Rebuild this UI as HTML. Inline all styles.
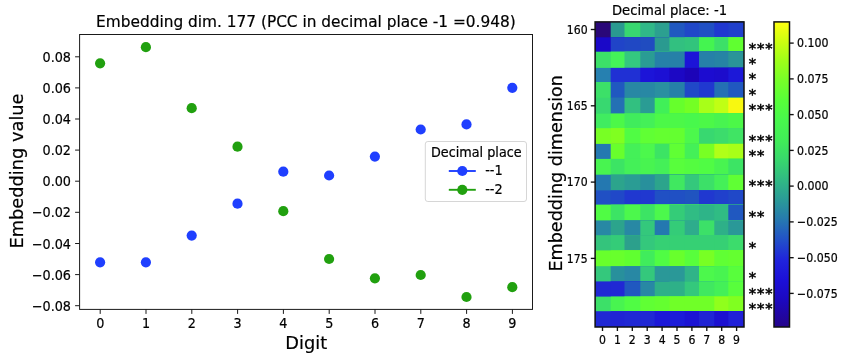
<!DOCTYPE html>
<html lang="en"><head><meta charset="utf-8"><title>Embedding dim. 177</title>
<style>html,body{margin:0;padding:0;background:#fff}svg{display:block}</style></head>
<body>
<svg width="847" height="356" viewBox="0 0 847 356" font-family="'DejaVu Sans', 'Liberation Sans', sans-serif" fill="#000">
<rect width="847" height="356" fill="#fff"/>
<text transform="translate(305.95,26.90)" font-size="15.35" text-anchor="middle" stroke="#000" stroke-width="0.2">Embedding dim. 177 (PCC in decimal place -1 =0.948)</text>
<line x1="100.2" y1="309.4" x2="100.2" y2="313.9" stroke="#1a1a1a" stroke-width="1"/>
<text transform="translate(100.20,328.20) scale(1.0,1.06)" font-size="12.8" text-anchor="middle" stroke="#000" stroke-width="0.2">0</text>
<line x1="146.0" y1="309.4" x2="146.0" y2="313.9" stroke="#1a1a1a" stroke-width="1"/>
<text transform="translate(146.00,328.20) scale(1.0,1.06)" font-size="12.8" text-anchor="middle" stroke="#000" stroke-width="0.2">1</text>
<line x1="191.8" y1="309.4" x2="191.8" y2="313.9" stroke="#1a1a1a" stroke-width="1"/>
<text transform="translate(191.80,328.20) scale(1.0,1.06)" font-size="12.8" text-anchor="middle" stroke="#000" stroke-width="0.2">2</text>
<line x1="237.6" y1="309.4" x2="237.6" y2="313.9" stroke="#1a1a1a" stroke-width="1"/>
<text transform="translate(237.60,328.20) scale(1.0,1.06)" font-size="12.8" text-anchor="middle" stroke="#000" stroke-width="0.2">3</text>
<line x1="283.4" y1="309.4" x2="283.4" y2="313.9" stroke="#1a1a1a" stroke-width="1"/>
<text transform="translate(283.40,328.20) scale(1.0,1.06)" font-size="12.8" text-anchor="middle" stroke="#000" stroke-width="0.2">4</text>
<line x1="329.2" y1="309.4" x2="329.2" y2="313.9" stroke="#1a1a1a" stroke-width="1"/>
<text transform="translate(329.20,328.20) scale(1.0,1.06)" font-size="12.8" text-anchor="middle" stroke="#000" stroke-width="0.2">5</text>
<line x1="375.0" y1="309.4" x2="375.0" y2="313.9" stroke="#1a1a1a" stroke-width="1"/>
<text transform="translate(375.00,328.20) scale(1.0,1.06)" font-size="12.8" text-anchor="middle" stroke="#000" stroke-width="0.2">6</text>
<line x1="420.8" y1="309.4" x2="420.8" y2="313.9" stroke="#1a1a1a" stroke-width="1"/>
<text transform="translate(420.80,328.20) scale(1.0,1.06)" font-size="12.8" text-anchor="middle" stroke="#000" stroke-width="0.2">7</text>
<line x1="466.6" y1="309.4" x2="466.6" y2="313.9" stroke="#1a1a1a" stroke-width="1"/>
<text transform="translate(466.60,328.20) scale(1.0,1.06)" font-size="12.8" text-anchor="middle" stroke="#000" stroke-width="0.2">8</text>
<line x1="512.4" y1="309.4" x2="512.4" y2="313.9" stroke="#1a1a1a" stroke-width="1"/>
<text transform="translate(512.40,328.20) scale(1.0,1.06)" font-size="12.8" text-anchor="middle" stroke="#000" stroke-width="0.2">9</text>
<line x1="75.1" y1="56.8" x2="79.6" y2="56.8" stroke="#1a1a1a" stroke-width="1"/>
<text transform="translate(71.00,61.80) scale(1.0,1.07)" font-size="12.8" text-anchor="end" stroke="#000" stroke-width="0.2">0.08</text>
<line x1="75.1" y1="87.9" x2="79.6" y2="87.9" stroke="#1a1a1a" stroke-width="1"/>
<text transform="translate(71.00,92.92) scale(1.0,1.07)" font-size="12.8" text-anchor="end" stroke="#000" stroke-width="0.2">0.06</text>
<line x1="75.1" y1="119.0" x2="79.6" y2="119.0" stroke="#1a1a1a" stroke-width="1"/>
<text transform="translate(71.00,124.04) scale(1.0,1.07)" font-size="12.8" text-anchor="end" stroke="#000" stroke-width="0.2">0.04</text>
<line x1="75.1" y1="150.1" x2="79.6" y2="150.1" stroke="#1a1a1a" stroke-width="1"/>
<text transform="translate(71.00,155.16) scale(1.0,1.07)" font-size="12.8" text-anchor="end" stroke="#000" stroke-width="0.2">0.02</text>
<line x1="75.1" y1="181.2" x2="79.6" y2="181.2" stroke="#1a1a1a" stroke-width="1"/>
<text transform="translate(71.00,186.28) scale(1.0,1.07)" font-size="12.8" text-anchor="end" stroke="#000" stroke-width="0.2">0.00</text>
<line x1="75.1" y1="212.3" x2="79.6" y2="212.3" stroke="#1a1a1a" stroke-width="1"/>
<text transform="translate(71.00,217.40) scale(1.0,1.07)" font-size="12.8" text-anchor="end" stroke="#000" stroke-width="0.2">−0.02</text>
<line x1="75.1" y1="243.5" x2="79.6" y2="243.5" stroke="#1a1a1a" stroke-width="1"/>
<text transform="translate(71.00,248.52) scale(1.0,1.07)" font-size="12.8" text-anchor="end" stroke="#000" stroke-width="0.2">−0.04</text>
<line x1="75.1" y1="274.6" x2="79.6" y2="274.6" stroke="#1a1a1a" stroke-width="1"/>
<text transform="translate(71.00,279.64) scale(1.0,1.07)" font-size="12.8" text-anchor="end" stroke="#000" stroke-width="0.2">−0.06</text>
<line x1="75.1" y1="305.7" x2="79.6" y2="305.7" stroke="#1a1a1a" stroke-width="1"/>
<text transform="translate(71.00,310.76) scale(1.0,1.07)" font-size="12.8" text-anchor="end" stroke="#000" stroke-width="0.2">−0.08</text>
<text transform="translate(306.20,348.70)" font-size="17.8" text-anchor="middle" stroke="#000" stroke-width="0.2">Digit</text>
<text transform="translate(23.00,171.00) rotate(-90)" font-size="17.8" text-anchor="middle" stroke="#000" stroke-width="0.2">Embedding value</text>
<circle cx="100.1" cy="262.3" r="5.1" fill="#1f3fff"/>
<circle cx="145.9" cy="262.3" r="5.1" fill="#1f3fff"/>
<circle cx="191.7" cy="235.6" r="5.1" fill="#1f3fff"/>
<circle cx="237.5" cy="203.7" r="5.1" fill="#1f3fff"/>
<circle cx="283.3" cy="171.7" r="5.1" fill="#1f3fff"/>
<circle cx="329.1" cy="175.5" r="5.1" fill="#1f3fff"/>
<circle cx="374.9" cy="156.6" r="5.1" fill="#1f3fff"/>
<circle cx="420.7" cy="129.5" r="5.1" fill="#1f3fff"/>
<circle cx="466.5" cy="124.4" r="5.1" fill="#1f3fff"/>
<circle cx="512.3" cy="87.8" r="5.1" fill="#1f3fff"/>
<circle cx="100.1" cy="63.3" r="5.1" fill="#21a00f"/>
<circle cx="145.9" cy="47.2" r="5.1" fill="#21a00f"/>
<circle cx="191.7" cy="108.2" r="5.1" fill="#21a00f"/>
<circle cx="237.5" cy="146.7" r="5.1" fill="#21a00f"/>
<circle cx="283.3" cy="211.2" r="5.1" fill="#21a00f"/>
<circle cx="329.1" cy="259.0" r="5.1" fill="#21a00f"/>
<circle cx="374.9" cy="278.3" r="5.1" fill="#21a00f"/>
<circle cx="420.7" cy="275.0" r="5.1" fill="#21a00f"/>
<circle cx="466.5" cy="297.0" r="5.1" fill="#21a00f"/>
<circle cx="512.3" cy="287.2" r="5.1" fill="#21a00f"/>
<rect x="425.3" y="141.5" width="101.2" height="60.0" rx="2.5" fill="#fff" fill-opacity="0.8" stroke="#ccc" stroke-opacity="0.8" stroke-width="1"/>
<text transform="translate(476.30,156.80) scale(1.0,1.04)" font-size="12.8" text-anchor="middle" stroke="#000" stroke-width="0.2">Decimal place</text>
<line x1="448.8" y1="171.0" x2="475.8" y2="171.0" stroke="#1f3fff" stroke-width="1.9"/>
<circle cx="462.3" cy="171.0" r="5.1" fill="#1f3fff"/>
<text transform="translate(485.20,175.20) scale(1.0,1.06)" font-size="12.95" stroke="#000" stroke-width="0.2">--1</text>
<line x1="448.8" y1="189.8" x2="475.8" y2="189.8" stroke="#21a00f" stroke-width="1.9"/>
<circle cx="462.3" cy="189.8" r="5.1" fill="#21a00f"/>
<text transform="translate(485.20,193.90) scale(1.0,1.06)" font-size="12.95" stroke="#000" stroke-width="0.2">--2</text>
<rect x="79.6" y="34.5" width="452.9" height="274.9" fill="none" stroke="#1a1a1a" stroke-width="1"/>
<rect x="595.10" y="21.90" width="148.90" height="305.10" fill="#2a0878"/>
<rect x="610.70" y="21.90" width="133.30" height="305.10" fill="#2a9a90"/>
<rect x="624.50" y="21.90" width="119.50" height="305.10" fill="#38d870"/>
<rect x="640.30" y="21.90" width="103.70" height="305.10" fill="#30b888"/>
<rect x="654.70" y="21.90" width="89.30" height="305.10" fill="#2ca090"/>
<rect x="669.40" y="21.90" width="74.60" height="305.10" fill="#2058c0"/>
<rect x="684.70" y="21.90" width="59.30" height="305.10" fill="#2048c8"/>
<rect x="699.00" y="21.90" width="45.00" height="305.10" fill="#2050c4"/>
<rect x="714.30" y="21.90" width="29.70" height="305.10" fill="#2038d0"/>
<rect x="728.30" y="21.90" width="15.70" height="305.10" fill="#2040cc"/>
<rect x="595.10" y="37.30" width="148.90" height="289.70" fill="#1a08c8"/>
<rect x="610.70" y="37.30" width="133.30" height="289.70" fill="#2044c8"/>
<rect x="624.50" y="37.30" width="119.50" height="289.70" fill="#2048c4"/>
<rect x="640.30" y="37.30" width="103.70" height="289.70" fill="#204cc0"/>
<rect x="654.70" y="37.30" width="89.30" height="289.70" fill="#2a9a90"/>
<rect x="669.40" y="37.30" width="74.60" height="289.70" fill="#32c080"/>
<rect x="684.70" y="37.30" width="59.30" height="289.70" fill="#32c47c"/>
<rect x="699.00" y="37.30" width="45.00" height="289.70" fill="#44f450"/>
<rect x="714.30" y="37.30" width="29.70" height="289.70" fill="#3ce068"/>
<rect x="728.30" y="37.30" width="15.70" height="289.70" fill="#60ff30"/>
<rect x="595.10" y="51.70" width="148.90" height="275.30" fill="#3ce068"/>
<rect x="610.70" y="51.70" width="133.30" height="275.30" fill="#44f458"/>
<rect x="624.50" y="51.70" width="119.50" height="275.30" fill="#34c880"/>
<rect x="640.30" y="51.70" width="103.70" height="275.30" fill="#2a9c94"/>
<rect x="654.70" y="51.70" width="89.30" height="275.30" fill="#2680a8"/>
<rect x="669.40" y="51.70" width="74.60" height="275.30" fill="#2680a8"/>
<rect x="684.70" y="51.70" width="59.30" height="275.30" fill="#1c14d8"/>
<rect x="699.00" y="51.70" width="45.00" height="275.30" fill="#2680a8"/>
<rect x="714.30" y="51.70" width="29.70" height="275.30" fill="#2684a4"/>
<rect x="728.30" y="51.70" width="15.70" height="275.30" fill="#2a9498"/>
<rect x="595.10" y="67.90" width="148.90" height="259.10" fill="#2680b0"/>
<rect x="610.70" y="67.90" width="133.30" height="259.10" fill="#2030d4"/>
<rect x="624.50" y="67.90" width="119.50" height="259.10" fill="#2030d4"/>
<rect x="640.30" y="67.90" width="103.70" height="259.10" fill="#1c14d8"/>
<rect x="654.70" y="67.90" width="89.30" height="259.10" fill="#1c10d4"/>
<rect x="669.40" y="67.90" width="74.60" height="259.10" fill="#1c08c4"/>
<rect x="684.70" y="67.90" width="59.30" height="259.10" fill="#1c04b8"/>
<rect x="699.00" y="67.90" width="45.00" height="259.10" fill="#1c0cd0"/>
<rect x="714.30" y="67.90" width="29.70" height="259.10" fill="#1c0ccc"/>
<rect x="728.30" y="67.90" width="15.70" height="259.10" fill="#1c18d8"/>
<rect x="595.10" y="82.00" width="148.90" height="245.00" fill="#3ce068"/>
<rect x="610.70" y="82.00" width="133.30" height="245.00" fill="#2058c0"/>
<rect x="624.50" y="82.00" width="119.50" height="245.00" fill="#2888a4"/>
<rect x="640.30" y="82.00" width="103.70" height="245.00" fill="#2888a4"/>
<rect x="654.70" y="82.00" width="89.30" height="245.00" fill="#2a90a0"/>
<rect x="669.40" y="82.00" width="74.60" height="245.00" fill="#2680a8"/>
<rect x="684.70" y="82.00" width="59.30" height="245.00" fill="#2048c8"/>
<rect x="699.00" y="82.00" width="45.00" height="245.00" fill="#2038d0"/>
<rect x="714.30" y="82.00" width="29.70" height="245.00" fill="#2470b4"/>
<rect x="728.30" y="82.00" width="15.70" height="245.00" fill="#2058c0"/>
<rect x="595.10" y="97.90" width="148.90" height="229.10" fill="#38d870"/>
<rect x="610.70" y="97.90" width="133.30" height="229.10" fill="#2470b4"/>
<rect x="624.50" y="97.90" width="119.50" height="229.10" fill="#32c080"/>
<rect x="640.30" y="97.90" width="103.70" height="229.10" fill="#2a9c94"/>
<rect x="654.70" y="97.90" width="89.30" height="229.10" fill="#40f058"/>
<rect x="669.40" y="97.90" width="74.60" height="229.10" fill="#66ff2c"/>
<rect x="684.70" y="97.90" width="59.30" height="229.10" fill="#74ff24"/>
<rect x="699.00" y="97.90" width="45.00" height="229.10" fill="#a8ff18"/>
<rect x="714.30" y="97.90" width="29.70" height="229.10" fill="#c0ff14"/>
<rect x="728.30" y="97.90" width="15.70" height="229.10" fill="#f8f810"/>
<rect x="595.10" y="113.60" width="148.90" height="213.40" fill="#40ec60"/>
<rect x="610.70" y="113.60" width="133.30" height="213.40" fill="#4cf848"/>
<rect x="624.50" y="113.60" width="119.50" height="213.40" fill="#40ec5c"/>
<rect x="640.30" y="113.60" width="103.70" height="213.40" fill="#44f058"/>
<rect x="654.70" y="113.60" width="89.30" height="213.40" fill="#4cf848"/>
<rect x="669.40" y="113.60" width="74.60" height="213.40" fill="#4cf848"/>
<rect x="684.70" y="113.60" width="59.30" height="213.40" fill="#48f84c"/>
<rect x="699.00" y="113.60" width="45.00" height="213.40" fill="#4cf848"/>
<rect x="714.30" y="113.60" width="29.70" height="213.40" fill="#48f450"/>
<rect x="728.30" y="113.60" width="15.70" height="213.40" fill="#4cf848"/>
<rect x="595.10" y="128.20" width="148.90" height="198.80" fill="#78ff24"/>
<rect x="610.70" y="128.20" width="133.30" height="198.80" fill="#80ff20"/>
<rect x="624.50" y="128.20" width="119.50" height="198.80" fill="#50fc44"/>
<rect x="640.30" y="128.20" width="103.70" height="198.80" fill="#60ff34"/>
<rect x="654.70" y="128.20" width="89.30" height="198.80" fill="#64ff30"/>
<rect x="669.40" y="128.20" width="74.60" height="198.80" fill="#64ff30"/>
<rect x="684.70" y="128.20" width="59.30" height="198.80" fill="#4cf84c"/>
<rect x="699.00" y="128.20" width="45.00" height="198.80" fill="#38d870"/>
<rect x="714.30" y="128.20" width="29.70" height="198.80" fill="#3cdc6c"/>
<rect x="728.30" y="128.20" width="15.70" height="198.80" fill="#40e464"/>
<rect x="595.10" y="143.90" width="148.90" height="183.10" fill="#2478b0"/>
<rect x="610.70" y="143.90" width="133.30" height="183.10" fill="#68ff2c"/>
<rect x="624.50" y="143.90" width="119.50" height="183.10" fill="#44f058"/>
<rect x="640.30" y="143.90" width="103.70" height="183.10" fill="#4cf84c"/>
<rect x="654.70" y="143.90" width="89.30" height="183.10" fill="#3ce464"/>
<rect x="669.40" y="143.90" width="74.60" height="183.10" fill="#60ff34"/>
<rect x="684.70" y="143.90" width="59.30" height="183.10" fill="#44f058"/>
<rect x="699.00" y="143.90" width="45.00" height="183.10" fill="#78ff24"/>
<rect x="714.30" y="143.90" width="29.70" height="183.10" fill="#b0ff18"/>
<rect x="728.30" y="143.90" width="15.70" height="183.10" fill="#a8ff18"/>
<rect x="595.10" y="158.90" width="148.90" height="168.10" fill="#48f450"/>
<rect x="610.70" y="158.90" width="133.30" height="168.10" fill="#3ce464"/>
<rect x="624.50" y="158.90" width="119.50" height="168.10" fill="#44f058"/>
<rect x="640.30" y="158.90" width="103.70" height="168.10" fill="#48f450"/>
<rect x="654.70" y="158.90" width="89.30" height="168.10" fill="#44f058"/>
<rect x="669.40" y="158.90" width="74.60" height="168.10" fill="#58fe3c"/>
<rect x="684.70" y="158.90" width="59.30" height="168.10" fill="#54fc40"/>
<rect x="699.00" y="158.90" width="45.00" height="168.10" fill="#50fc44"/>
<rect x="714.30" y="158.90" width="29.70" height="168.10" fill="#48f450"/>
<rect x="728.30" y="158.90" width="15.70" height="168.10" fill="#3ce464"/>
<rect x="595.10" y="174.70" width="148.90" height="152.30" fill="#2478b0"/>
<rect x="610.70" y="174.70" width="133.30" height="152.30" fill="#2ca48c"/>
<rect x="624.50" y="174.70" width="119.50" height="152.30" fill="#2a9c94"/>
<rect x="640.30" y="174.70" width="103.70" height="152.30" fill="#28909c"/>
<rect x="654.70" y="174.70" width="89.30" height="152.30" fill="#2ca48c"/>
<rect x="669.40" y="174.70" width="74.60" height="152.30" fill="#40e860"/>
<rect x="684.70" y="174.70" width="59.30" height="152.30" fill="#34c87c"/>
<rect x="699.00" y="174.70" width="45.00" height="152.30" fill="#3ce068"/>
<rect x="714.30" y="174.70" width="29.70" height="152.30" fill="#44f058"/>
<rect x="728.30" y="174.70" width="15.70" height="152.30" fill="#60ff34"/>
<rect x="595.10" y="190.40" width="148.90" height="136.60" fill="#2050c4"/>
<rect x="610.70" y="190.40" width="133.30" height="136.60" fill="#2048c8"/>
<rect x="624.50" y="190.40" width="119.50" height="136.60" fill="#2038d0"/>
<rect x="640.30" y="190.40" width="103.70" height="136.60" fill="#2038d0"/>
<rect x="654.70" y="190.40" width="89.30" height="136.60" fill="#2050c4"/>
<rect x="669.40" y="190.40" width="74.60" height="136.60" fill="#2050c4"/>
<rect x="684.70" y="190.40" width="59.30" height="136.60" fill="#2054c0"/>
<rect x="699.00" y="190.40" width="45.00" height="136.60" fill="#2038d0"/>
<rect x="714.30" y="190.40" width="29.70" height="136.60" fill="#2040cc"/>
<rect x="728.30" y="190.40" width="15.70" height="136.60" fill="#2048c8"/>
<rect x="595.10" y="204.60" width="148.90" height="122.40" fill="#50fc44"/>
<rect x="610.70" y="204.60" width="133.30" height="122.40" fill="#3ce464"/>
<rect x="624.50" y="204.60" width="119.50" height="122.40" fill="#4cf84c"/>
<rect x="640.30" y="204.60" width="103.70" height="122.40" fill="#3ce464"/>
<rect x="654.70" y="204.60" width="89.30" height="122.40" fill="#4cf84c"/>
<rect x="669.40" y="204.60" width="74.60" height="122.40" fill="#34cc78"/>
<rect x="684.70" y="204.60" width="59.30" height="122.40" fill="#30bc84"/>
<rect x="699.00" y="204.60" width="45.00" height="122.40" fill="#2eb488"/>
<rect x="714.30" y="204.60" width="29.70" height="122.40" fill="#30bc84"/>
<rect x="728.30" y="204.60" width="15.70" height="122.40" fill="#2058c0"/>
<rect x="595.10" y="220.40" width="148.90" height="106.60" fill="#2888a4"/>
<rect x="610.70" y="220.40" width="133.30" height="106.60" fill="#2ca48c"/>
<rect x="624.50" y="220.40" width="119.50" height="106.60" fill="#2888a4"/>
<rect x="640.30" y="220.40" width="103.70" height="106.60" fill="#34c87c"/>
<rect x="654.70" y="220.40" width="89.30" height="106.60" fill="#2478b0"/>
<rect x="669.40" y="220.40" width="74.60" height="106.60" fill="#34cc78"/>
<rect x="684.70" y="220.40" width="59.30" height="106.60" fill="#2eac8c"/>
<rect x="699.00" y="220.40" width="45.00" height="106.60" fill="#3ce068"/>
<rect x="714.30" y="220.40" width="29.70" height="106.60" fill="#2eb088"/>
<rect x="728.30" y="220.40" width="15.70" height="106.60" fill="#2a9898"/>
<rect x="595.10" y="235.20" width="148.90" height="91.80" fill="#34c47c"/>
<rect x="610.70" y="235.20" width="133.30" height="91.80" fill="#34cc78"/>
<rect x="624.50" y="235.20" width="119.50" height="91.80" fill="#2ca08c"/>
<rect x="640.30" y="235.20" width="103.70" height="91.80" fill="#34c87c"/>
<rect x="654.70" y="235.20" width="89.30" height="91.80" fill="#36d074"/>
<rect x="669.40" y="235.20" width="74.60" height="91.80" fill="#36d074"/>
<rect x="684.70" y="235.20" width="59.30" height="91.80" fill="#36d074"/>
<rect x="699.00" y="235.20" width="45.00" height="91.80" fill="#36d074"/>
<rect x="714.30" y="235.20" width="29.70" height="91.80" fill="#36d074"/>
<rect x="728.30" y="235.20" width="15.70" height="91.80" fill="#3cdc6c"/>
<rect x="595.10" y="250.40" width="148.90" height="76.60" fill="#68ff2c"/>
<rect x="610.70" y="250.40" width="133.30" height="76.60" fill="#68ff2c"/>
<rect x="624.50" y="250.40" width="119.50" height="76.60" fill="#60ff30"/>
<rect x="640.30" y="250.40" width="103.70" height="76.60" fill="#40ec5c"/>
<rect x="654.70" y="250.40" width="89.30" height="76.60" fill="#50fc44"/>
<rect x="669.40" y="250.40" width="74.60" height="76.60" fill="#68ff2c"/>
<rect x="684.70" y="250.40" width="59.30" height="76.60" fill="#58fe3c"/>
<rect x="699.00" y="250.40" width="45.00" height="76.60" fill="#78ff24"/>
<rect x="714.30" y="250.40" width="29.70" height="76.60" fill="#60ff34"/>
<rect x="728.30" y="250.40" width="15.70" height="76.60" fill="#64ff30"/>
<rect x="595.10" y="266.20" width="148.90" height="60.80" fill="#34c87c"/>
<rect x="610.70" y="266.20" width="133.30" height="60.80" fill="#28909c"/>
<rect x="624.50" y="266.20" width="119.50" height="60.80" fill="#2888a4"/>
<rect x="640.30" y="266.20" width="103.70" height="60.80" fill="#34c87c"/>
<rect x="654.70" y="266.20" width="89.30" height="60.80" fill="#2a9898"/>
<rect x="669.40" y="266.20" width="74.60" height="60.80" fill="#2a9898"/>
<rect x="684.70" y="266.20" width="59.30" height="60.80" fill="#30b488"/>
<rect x="699.00" y="266.20" width="45.00" height="60.80" fill="#4cf84c"/>
<rect x="714.30" y="266.20" width="29.70" height="60.80" fill="#48f450"/>
<rect x="728.30" y="266.20" width="15.70" height="60.80" fill="#58fe3c"/>
<rect x="595.10" y="281.40" width="148.90" height="45.60" fill="#2028d4"/>
<rect x="610.70" y="281.40" width="133.30" height="45.60" fill="#2028d4"/>
<rect x="624.50" y="281.40" width="119.50" height="45.60" fill="#2058c0"/>
<rect x="640.30" y="281.40" width="103.70" height="45.60" fill="#2888a4"/>
<rect x="654.70" y="281.40" width="89.30" height="45.60" fill="#2eb088"/>
<rect x="669.40" y="281.40" width="74.60" height="45.60" fill="#2eb088"/>
<rect x="684.70" y="281.40" width="59.30" height="45.60" fill="#34c87c"/>
<rect x="699.00" y="281.40" width="45.00" height="45.60" fill="#40e860"/>
<rect x="714.30" y="281.40" width="29.70" height="45.60" fill="#44f058"/>
<rect x="728.30" y="281.40" width="15.70" height="45.60" fill="#58fe3c"/>
<rect x="595.10" y="296.60" width="148.90" height="30.40" fill="#3ce068"/>
<rect x="610.70" y="296.60" width="133.30" height="30.40" fill="#48f450"/>
<rect x="624.50" y="296.60" width="119.50" height="30.40" fill="#50fc44"/>
<rect x="640.30" y="296.60" width="103.70" height="30.40" fill="#60ff34"/>
<rect x="654.70" y="296.60" width="89.30" height="30.40" fill="#64ff30"/>
<rect x="669.40" y="296.60" width="74.60" height="30.40" fill="#70ff28"/>
<rect x="684.70" y="296.60" width="59.30" height="30.40" fill="#70ff28"/>
<rect x="699.00" y="296.60" width="45.00" height="30.40" fill="#70ff28"/>
<rect x="714.30" y="296.60" width="29.70" height="30.40" fill="#90ff1c"/>
<rect x="728.30" y="296.60" width="15.70" height="30.40" fill="#80ff20"/>
<rect x="595.10" y="311.20" width="148.90" height="15.80" fill="#2028d4"/>
<rect x="610.70" y="311.20" width="133.30" height="15.80" fill="#2024d4"/>
<rect x="624.50" y="311.20" width="119.50" height="15.80" fill="#2028d4"/>
<rect x="640.30" y="311.20" width="103.70" height="15.80" fill="#2028d4"/>
<rect x="654.70" y="311.20" width="89.30" height="15.80" fill="#1c18d8"/>
<rect x="669.40" y="311.20" width="74.60" height="15.80" fill="#1c1cd8"/>
<rect x="684.70" y="311.20" width="59.30" height="15.80" fill="#1c14d4"/>
<rect x="699.00" y="311.20" width="45.00" height="15.80" fill="#2024d4"/>
<rect x="714.30" y="311.20" width="29.70" height="15.80" fill="#1c10d0"/>
<rect x="728.30" y="311.20" width="15.70" height="15.80" fill="#2020d8"/>
<rect x="595.1" y="21.9" width="148.9" height="305.1" fill="none" stroke="#111" stroke-width="1.5"/>
<text transform="translate(669.55,15.40) scale(1.0,1.04)" font-size="13.2" text-anchor="middle" stroke="#000" stroke-width="0.2">Decimal place: -1</text>
<line x1="602.5" y1="327.0" x2="602.5" y2="331.0" stroke="#111" stroke-width="1.35"/>
<text transform="translate(602.55,344.15) scale(1.0,1.08)" font-size="10.9" text-anchor="middle" stroke="#000" stroke-width="0.2">0</text>
<line x1="617.4" y1="327.0" x2="617.4" y2="331.0" stroke="#111" stroke-width="1.35"/>
<text transform="translate(617.44,344.15) scale(1.0,1.08)" font-size="10.9" text-anchor="middle" stroke="#000" stroke-width="0.2">1</text>
<line x1="632.3" y1="327.0" x2="632.3" y2="331.0" stroke="#111" stroke-width="1.35"/>
<text transform="translate(632.33,344.15) scale(1.0,1.08)" font-size="10.9" text-anchor="middle" stroke="#000" stroke-width="0.2">2</text>
<line x1="647.2" y1="327.0" x2="647.2" y2="331.0" stroke="#111" stroke-width="1.35"/>
<text transform="translate(647.22,344.15) scale(1.0,1.08)" font-size="10.9" text-anchor="middle" stroke="#000" stroke-width="0.2">3</text>
<line x1="662.1" y1="327.0" x2="662.1" y2="331.0" stroke="#111" stroke-width="1.35"/>
<text transform="translate(662.11,344.15) scale(1.0,1.08)" font-size="10.9" text-anchor="middle" stroke="#000" stroke-width="0.2">4</text>
<line x1="677.0" y1="327.0" x2="677.0" y2="331.0" stroke="#111" stroke-width="1.35"/>
<text transform="translate(677.00,344.15) scale(1.0,1.08)" font-size="10.9" text-anchor="middle" stroke="#000" stroke-width="0.2">5</text>
<line x1="691.9" y1="327.0" x2="691.9" y2="331.0" stroke="#111" stroke-width="1.35"/>
<text transform="translate(691.88,344.15) scale(1.0,1.08)" font-size="10.9" text-anchor="middle" stroke="#000" stroke-width="0.2">6</text>
<line x1="706.8" y1="327.0" x2="706.8" y2="331.0" stroke="#111" stroke-width="1.35"/>
<text transform="translate(706.77,344.15) scale(1.0,1.08)" font-size="10.9" text-anchor="middle" stroke="#000" stroke-width="0.2">7</text>
<line x1="721.7" y1="327.0" x2="721.7" y2="331.0" stroke="#111" stroke-width="1.35"/>
<text transform="translate(721.66,344.15) scale(1.0,1.08)" font-size="10.9" text-anchor="middle" stroke="#000" stroke-width="0.2">8</text>
<line x1="736.6" y1="327.0" x2="736.6" y2="331.0" stroke="#111" stroke-width="1.35"/>
<text transform="translate(736.56,344.15) scale(1.0,1.08)" font-size="10.9" text-anchor="middle" stroke="#000" stroke-width="0.2">9</text>
<line x1="590.8" y1="29.5" x2="595.1" y2="29.5" stroke="#111" stroke-width="1.35"/>
<text transform="translate(587.60,33.73) scale(1.0,1.08)" font-size="10.9" text-anchor="end" stroke="#000" stroke-width="0.2">160</text>
<line x1="590.8" y1="105.8" x2="595.1" y2="105.8" stroke="#111" stroke-width="1.35"/>
<text transform="translate(587.60,110.00) scale(1.0,1.08)" font-size="10.9" text-anchor="end" stroke="#000" stroke-width="0.2">165</text>
<line x1="590.8" y1="182.1" x2="595.1" y2="182.1" stroke="#111" stroke-width="1.35"/>
<text transform="translate(587.60,186.28) scale(1.0,1.08)" font-size="10.9" text-anchor="end" stroke="#000" stroke-width="0.2">170</text>
<line x1="590.8" y1="258.4" x2="595.1" y2="258.4" stroke="#111" stroke-width="1.35"/>
<text transform="translate(587.60,262.55) scale(1.0,1.08)" font-size="10.9" text-anchor="end" stroke="#000" stroke-width="0.2">175</text>
<text transform="translate(561.90,173.30) rotate(-90)" font-size="17.6" text-anchor="middle" stroke="#000" stroke-width="0.2">Embedding dimension</text>
<text x="748.8" y="52.8" font-size="14.6" letter-spacing="0.9" stroke="#000" stroke-width="0.55">***</text>
<text x="748.8" y="68.1" font-size="14.6" letter-spacing="0.9" stroke="#000" stroke-width="0.55">*</text>
<text x="748.8" y="83.4" font-size="14.6" letter-spacing="0.9" stroke="#000" stroke-width="0.55">*</text>
<text x="748.8" y="98.7" font-size="14.6" letter-spacing="0.9" stroke="#000" stroke-width="0.55">*</text>
<text x="748.8" y="114.0" font-size="14.6" letter-spacing="0.9" stroke="#000" stroke-width="0.55">***</text>
<text x="748.8" y="144.6" font-size="14.6" letter-spacing="0.9" stroke="#000" stroke-width="0.55">***</text>
<text x="748.8" y="159.9" font-size="14.6" letter-spacing="0.9" stroke="#000" stroke-width="0.55">**</text>
<text x="748.8" y="190.4" font-size="14.6" letter-spacing="0.9" stroke="#000" stroke-width="0.55">***</text>
<text x="748.8" y="221.0" font-size="14.6" letter-spacing="0.9" stroke="#000" stroke-width="0.55">**</text>
<text x="748.8" y="251.6" font-size="14.6" letter-spacing="0.9" stroke="#000" stroke-width="0.55">*</text>
<text x="748.8" y="282.2" font-size="14.6" letter-spacing="0.9" stroke="#000" stroke-width="0.55">*</text>
<text x="748.8" y="297.5" font-size="14.6" letter-spacing="0.9" stroke="#000" stroke-width="0.55">***</text>
<text x="748.8" y="312.8" font-size="14.6" letter-spacing="0.9" stroke="#000" stroke-width="0.55">***</text>
<defs><linearGradient id="cb" x1="0" y1="1" x2="0" y2="0"><stop offset="0" stop-color="#25048a"/><stop offset="0.09" stop-color="#1c08c0"/><stop offset="0.155" stop-color="#1c10d8"/><stop offset="0.22" stop-color="#2024dc"/><stop offset="0.285" stop-color="#2250c8"/><stop offset="0.35" stop-color="#2678b0"/><stop offset="0.416" stop-color="#2a9a98"/><stop offset="0.48" stop-color="#30b884"/><stop offset="0.55" stop-color="#38d86c"/><stop offset="0.61" stop-color="#40ec58"/><stop offset="0.68" stop-color="#48f84c"/><stop offset="0.745" stop-color="#58ff38"/><stop offset="0.81" stop-color="#78ff28"/><stop offset="0.875" stop-color="#a0ff18"/><stop offset="0.94" stop-color="#d0ff10"/><stop offset="1" stop-color="#ffff10"/></linearGradient></defs>
<rect x="774.0" y="21.9" width="15.5" height="305.1" fill="url(#cb)" stroke="#111" stroke-width="1.5"/>
<line x1="789.5" y1="43.1" x2="793.7" y2="43.1" stroke="#111" stroke-width="1.35"/>
<text transform="translate(797.00,47.30) scale(1.0,1.08)" font-size="11.0" stroke="#000" stroke-width="0.2">0.100</text>
<line x1="789.5" y1="78.9" x2="793.7" y2="78.9" stroke="#111" stroke-width="1.35"/>
<text transform="translate(797.00,83.06) scale(1.0,1.08)" font-size="11.0" stroke="#000" stroke-width="0.2">0.075</text>
<line x1="789.5" y1="114.6" x2="793.7" y2="114.6" stroke="#111" stroke-width="1.35"/>
<text transform="translate(797.00,118.82) scale(1.0,1.08)" font-size="11.0" stroke="#000" stroke-width="0.2">0.050</text>
<line x1="789.5" y1="150.4" x2="793.7" y2="150.4" stroke="#111" stroke-width="1.35"/>
<text transform="translate(797.00,154.58) scale(1.0,1.08)" font-size="11.0" stroke="#000" stroke-width="0.2">0.025</text>
<line x1="789.5" y1="186.1" x2="793.7" y2="186.1" stroke="#111" stroke-width="1.35"/>
<text transform="translate(797.00,190.34) scale(1.0,1.08)" font-size="11.0" stroke="#000" stroke-width="0.2">0.000</text>
<line x1="789.5" y1="221.9" x2="793.7" y2="221.9" stroke="#111" stroke-width="1.35"/>
<text transform="translate(797.00,226.10) scale(1.0,1.08)" font-size="11.0" stroke="#000" stroke-width="0.2">−0.025</text>
<line x1="789.5" y1="257.7" x2="793.7" y2="257.7" stroke="#111" stroke-width="1.35"/>
<text transform="translate(797.00,261.86) scale(1.0,1.08)" font-size="11.0" stroke="#000" stroke-width="0.2">−0.050</text>
<line x1="789.5" y1="293.4" x2="793.7" y2="293.4" stroke="#111" stroke-width="1.35"/>
<text transform="translate(797.00,297.62) scale(1.0,1.08)" font-size="11.0" stroke="#000" stroke-width="0.2">−0.075</text>
</svg>
</body></html>
